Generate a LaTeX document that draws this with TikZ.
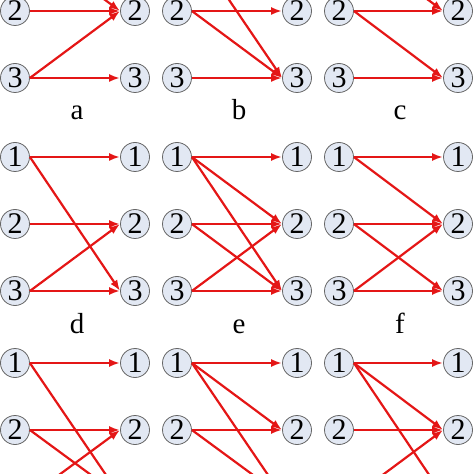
\documentclass[tikz,border=0pt]{standalone}
\usepackage{fontspec}
\setmainfont{Liberation Serif}
\usetikzlibrary{arrows.meta,positioning}
\definecolor{nodefill}{RGB}{226,232,243}
\definecolor{linkred}{RGB}{228,22,22}

\begin{document}
\begin{tikzpicture}[x=0.5pt,y=-0.5pt,
  vtx/.style={circle,draw=black!60,fill=nodefill,minimum size=14.5pt,inner sep=0pt,font=\fontsize{15}{15}\selectfont},
  lnk/.style={-{Latex[length=5.5pt,width=4pt]},draw=linkred,line width=1.1pt},
  tag/.style={anchor=base,font=\fontsize{14.5}{14.5}\selectfont}]
  \useasboundingbox (0,0) rectangle (474,474);
  \clip (0,0) rectangle (474,474);

  % top row: a, b, c (row 1 lies above the picture)
  \coordinate (al1) at (29,-56);
  \coordinate (bl1) at (191,-56);
  \coordinate (cl1) at (353,-56);
  \foreach \p/\xl/\xr in {a/15/135,b/177/297,c/339/458}{
    \node[vtx] (\p l2) at (\xl,11) {2};
    \node[vtx] (\p l3) at (\xl,78) {3};
    \node[vtx] (\p r2) at (\xr,11) {2};
    \node[vtx] (\p r3) at (\xr,78) {3};
  }
  \node[tag] (la) at (77,120) {a};
  \node[tag] (lb) at (239,120) {b};
  \node[tag] (lc) at (400,120) {c};

  % middle row: d, e, f
  \foreach \p/\xl/\xr in {d/15/135,e/177/297,f/339/458}{
    \foreach \r/\y in {1/157,2/224,3/291}{
      \node[vtx] (\p l\r) at (\xl,\y) {\r};
      \node[vtx] (\p r\r) at (\xr,\y) {\r};
    }
  }
  \node[tag] (ld) at (77,333) {d};
  \node[tag] (le) at (239,333) {e};
  \node[tag] (lf) at (400,333) {f};

  % bottom row: row 3 lies below the picture
  \foreach \p/\xl/\xr in {g/15/135,h/177/297,i/339/458}{
    \node[vtx] (\p l1) at (\xl,363) {1};
    \node[vtx] (\p l2) at (\xl,430) {2};
    \node[vtx] (\p r1) at (\xr,363) {1};
    \node[vtx] (\p r2) at (\xr,430) {2};
  }
  \coordinate (gl3) at (29,497);  \coordinate (gr3) at (121,497);
  \coordinate (hl3) at (191,497); \coordinate (hr3) at (283,497);
  \coordinate (il3) at (353,497); \coordinate (ir3) at (444,497);

  % a
  \draw[lnk] (al1) -- (ar2.west);
  \draw[lnk] (al2.east) -- (ar2.west);
  \draw[lnk] (al3.east) -- (ar2.west);
  \draw[lnk] (al3.east) -- (ar3.west);
  % b
  \draw[lnk] (bl1) -- (br3.west);
  \draw[lnk] (bl2.east) -- (br2.west);
  \draw[lnk] (bl2.east) -- (br3.west);
  \draw[lnk] (bl3.east) -- (br3.west);
  % c
  \draw[lnk] (cl1) -- (cr2.west);
  \draw[lnk] (cl2.east) -- (cr2.west);
  \draw[lnk] (cl2.east) -- (cr3.west);
  \draw[lnk] (cl3.east) -- (cr3.west);
  % d
  \draw[lnk] (dl1.east) -- (dr1.west);
  \draw[lnk] (dl1.east) -- (dr3.west);
  \draw[lnk] (dl2.east) -- (dr2.west);
  \draw[lnk] (dl3.east) -- (dr2.west);
  \draw[lnk] (dl3.east) -- (dr3.west);
  % e
  \draw[lnk] (el1.east) -- (er1.west);
  \draw[lnk] (el1.east) -- (er2.west);
  \draw[lnk] (el1.east) -- (er3.west);
  \draw[lnk] (el2.east) -- (er2.west);
  \draw[lnk] (el2.east) -- (er3.west);
  \draw[lnk] (el3.east) -- (er2.west);
  \draw[lnk] (el3.east) -- (er3.west);
  % f
  \draw[lnk] (fl1.east) -- (fr1.west);
  \draw[lnk] (fl1.east) -- (fr2.west);
  \draw[lnk] (fl2.east) -- (fr2.west);
  \draw[lnk] (fl2.east) -- (fr3.west);
  \draw[lnk] (fl3.east) -- (fr2.west);
  \draw[lnk] (fl3.east) -- (fr3.west);
  % g
  \draw[lnk] (gl1.east) -- (gr1.west);
  \draw[lnk] (gl1.east) -- (gr3);
  \draw[lnk] (gl2.east) -- (gr2.west);
  \draw[lnk] (gl2.east) -- (gr3);
  \draw[lnk] (gl3) -- (gr2.west);
  % h
  \draw[lnk] (hl1.east) -- (hr1.west);
  \draw[lnk] (hl1.east) -- (hr2.west);
  \draw[lnk] (hl1.east) -- (hr3);
  \draw[lnk] (hl2.east) -- (hr2.west);
  \draw[lnk] (hl2.east) -- (hr3);
  % i
  \draw[lnk] (il1.east) -- (ir1.west);
  \draw[lnk] (il1.east) -- (ir2.west);
  \draw[lnk] (il1.east) -- (ir3);
  \draw[lnk] (il2.east) -- (ir2.west);
  \draw[lnk] (il3) -- (ir2.west);
\end{tikzpicture}
\end{document}
